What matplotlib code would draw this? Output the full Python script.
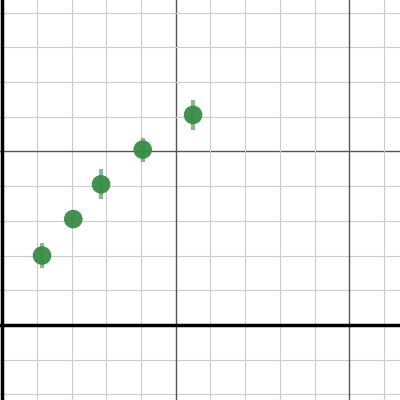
import matplotlib.pyplot as plt
import numpy as np

x = [1.15, 2.05, 2.85, 4.05, 5.5]
y = [2.0, 3.05, 4.05, 5.05, 6.05]
yerr = [0.35, 0.15, 0.43, 0.35, 0.43]

fig = plt.figure(figsize=(4, 4), dpi=100)
ax = fig.add_axes([0, 0, 1, 1])
ax.set_xlim(-0.06, 11.46)
ax.set_ylim(-2.16, 9.36)

for v in np.arange(-2, 12):
    major = v % 5 == 0
    ax.axvline(v, color="#555555" if major else "#cccccc", lw=1.0 if major else 0.8, zorder=0)
    ax.axhline(v, color="#555555" if major else "#cccccc", lw=1.0 if major else 0.8, zorder=0)
ax.axvline(0, color="black", lw=2.5, zorder=1)
ax.axhline(0, color="black", lw=2.5, zorder=1)

ax.errorbar(x, y, yerr=yerr, fmt="none", ecolor="#388c46", alpha=0.6, elinewidth=3, zorder=2)
ax.scatter(x, y, s=180, color="#388c46", alpha=0.95, zorder=3, edgecolors="none")

ax.set_xticks([])
ax.set_yticks([])
for s in ax.spines.values():
    s.set_visible(False)
fig.savefig("out.png")
